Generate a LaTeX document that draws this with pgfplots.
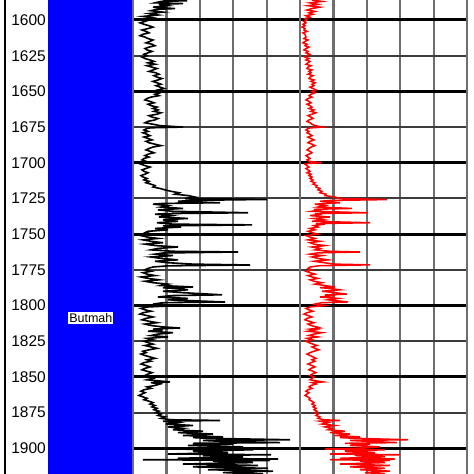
\documentclass[border=0pt]{standalone}
\usepackage{pgfplots}
\pgfplotsset{compat=1.18}
\usepackage{fontspec}
\setmainfont{Liberation Sans}
\definecolor{gridgray}{RGB}{110,110,110}
\definecolor{minorgray}{RGB}{60,60,60}

\pgfplotstableread{
d v
1586 30
1586.5 54
1587 28
1588 22
1588.5 50
1589 26
1590 35
1591 20
1592 42
1592.5 24
1593.5 18
1594.5 30
1595.5 16
1596.5 25
1597.5 10
1598.5 20
1599.5 14
1600 16
1601 12
1602 7
1603 11
1604 16
1605 20
1606 15
1607 9
1608 13
1609 16
1610 10
1611 7
1612 12
1613 15
1614 20
1615 17
1616 13
1617 19
1618 22
1619 16
1620 12
1621 14
1622 19
1623 15
1624 11
1625 14
1626 9
1627 12
1628 17
1629 21
1630 15
1631 22
1632 14
1633 19
1634 24
1635 20
1636 16
1637 23
1638 26
1639 21
1640 24
1641 29
1642 25
1643 20
1644 24
1645 28
1646 23
1647 27
1648 31
1649 25
1650 29
1651 27
1652 22
1653 26
1654 18
1655 14
1656 12
1657 17
1658 21
1659 15
1660 18
1661 24
1662 20
1663 25
1664 21
1665 28
1666 24
1667 16
1668 19
1669 25
1670 22
1671 15
1672 12
1673 20
1674 27
1675 50
1675.5 18
1676 14
1677 11
1678 15
1679 10
1680 14
1681 17
1682 11
1683 15
1684 19
1685 13
1686 16
1687 22
1688 28
1689 20
1690 16
1691 13
1692 17
1693 21
1694 15
1695 12
1696 16
1697 11
1698 9
1699 13
1700 11
1701 8
1702 12
1703 17
1704 13
1705 9
1706 11
1707 15
1708 12
1709 8
1710 10
1711 14
1712 11
1713 16
1714 13
1715 18
1716 22
1717 20
1718 27
1719 32
1720 38
1721 46
1722 42
1723 55
1724 62
1725 52
1725.7 134
1726.3 60
1727 45
1728 87
1728.5 30
1729 20
1730 35
1731 28
1732 50
1733 25
1734 40
1735 115
1735.6 35
1736 22
1737 38
1738 26
1739 55
1740 30
1741 45
1742 24
1743 40
1743.5 119
1744.2 30
1745 48
1746 22
1747 35
1748 15
1749 12
1750 20
1751 8
1752 14
1753 25
1754 10
1755 18
1756 30
1757 12
1758 22
1759 45
1760 25
1761 18
1762 40
1762.5 105
1763.2 30
1764 22
1765 40
1766 18
1767 28
1768 45
1769 22
1770 35
1771 60
1771.6 117
1772.2 35
1773 20
1774 15
1775 12
1776 18
1777 10
1778 14
1779 22
1780 8
1781 15
1782 26
1783 12
1784 20
1785 35
1786 28
1787 60
1787.6 30
1788 45
1789 55
1790 30
1791 50
1792.5 89
1793 40
1794 25
1795 55
1796 35
1797.5 92
1798 30
1799 20
1800 45
1801 15
1802 8
1803 12
1804 18
1805 10
1806 7
1807 14
1808 20
1809 13
1810 9
1811 16
1812 24
1813 12
1814 18
1815 30
1815.7 47
1816.5 20
1817 30
1818 15
1819 40
1820 25
1821 18
1822 35
1823 14
1824 20
1825 11
1826 15
1827 20
1828 12
1829 18
1830 24
1831 16
1832 10
1833 13
1834 8
1835 12
1836 17
1837 22
1838 14
1839 18
1840 11
1841 8
1842 13
1843 17
1844 12
1845 9
1846 14
1847 19
1848 15
1849 12
1850 16
1851 20
1852 14
1853.5 37
1854 18
1855 27
1856 22
1857 14
1858 18
1859 11
1860 8
1861 12
1862 9
1863 6
1864 10
1865 14
1866 11
1867 16
1868 20
1869 17
1870 22
1871 19
1872 24
1873 21
1874 26
1875 23
1876 28
1877 25
1878 32
1879 28
1880 38
1880.5 87
1881 30
1882 45
1883 33
1884 60
1885 35
1886 50
1887 40
1888 70
1889 45
1890 80
1891 50
1892 90
1892.5 60
1893 75
1894 157
1894.5 70
1895 85
1896 147
1896.5 60
1897 100
1898 55
1899 110
1900 70
1900.5 30
1901 120
1902 60
1903 95
1904 35
1904.5 138
1905 70
1906 110
1907 45
1907.5 145
1908 10
1908.5 137
1909 80
1910 120
1911 50
1912 125
1913 60
1914 135
1915 75
1916 140
1917 90
1918 130
}\blackcurve

\pgfplotstableread{
d v
1586 12
1587 22
1588 10
1589 18
1590 8
1591 20
1592 12
1593 7
1594 15
1595 9
1596 13
1597 6
1598 10
1599 5
1600 7
1601 4
1602 6
1603 3
1604 5
1605 2
1606 5
1607 4
1608 7
1609 3
1610 5
1612 6
1613 4
1614 8
1615 5
1616 3
1617 7
1618 5
1619 9
1620 6
1621 4
1622 8
1623 6
1624 10
1625 7
1626 5
1627 9
1628 6
1629 10
1630 8
1631 6
1632 11
1633 8
1634 7
1635 12
1636 9
1637 11
1638 8
1639 13
1640 10
1641 9
1642 14
1643 11
1644 15
1645 12
1646 14
1647 10
1648 13
1649 16
1650 12
1651 15
1652 11
1653 9
1654 12
1655 8
1656 6
1657 9
1658 11
1659 7
1660 10
1661 12
1662 9
1663 14
1664 11
1665 16
1666 12
1667 8
1668 11
1669 13
1670 9
1671 7
1672 10
1673 12
1674 15
1675 23
1675.6 10
1676 8
1677 6
1678 9
1679 7
1680 10
1681 12
1682 8
1683 11
1684 14
1685 10
1686 8
1687 12
1688 15
1689 11
1690 9
1691 7
1692 10
1693 12
1694 9
1695 6
1696 8
1697 10
1698 7
1699 9
1700 22
1700.5 8
1701 5
1702 7
1703 9
1704 6
1705 8
1706 10
1707 7
1708 11
1709 9
1710 12
1711 10
1712 13
1713 11
1714 15
1715 13
1716 17
1717 16
1718 20
1719 18
1720 22
1721 20
1722 26
1723 25
1724 35
1725 40
1725.8 87
1726.4 30
1727 20
1728 40
1729 15
1730 25
1731 18
1732 52
1732.6 14
1733 20
1734 12
1735 68
1735.6 15
1736 22
1737 10
1738 30
1739 14
1740 24
1741 12
1742 70
1742.6 16
1743 25
1744 14
1745 18
1746 10
1747 15
1748 8
1749 12
1750 18
1751 6
1752 10
1753 15
1754 8
1755 20
1756 10
1757 14
1758 25
1759 12
1760 20
1761 15
1762 30
1762.5 60
1763.1 18
1764 10
1765 22
1766 12
1767 18
1768 28
1769 14
1770 24
1771 35
1771.5 70
1772.1 20
1773 10
1774 8
1775 12
1776 6
1777 10
1778 15
1779 8
1780 12
1781 18
1782 10
1783 14
1784 22
1785 15
1786 25
1787 35
1787.5 20
1788 30
1789 40
1790 22
1791 35
1792 47
1792.6 25
1793 35
1794 20
1795 38
1796 28
1797.5 48
1798 22
1799 15
1800 25
1801 10
1802 6
1803 9
1804 13
1805 7
1806 4
1807 8
1808 12
1809 7
1810 5
1811 9
1812 14
1813 8
1814 11
1815 17
1815.7 20
1816.5 10
1817 16
1818 8
1819 22
1820 14
1821 9
1822 18
1823 7
1824 12
1825 6
1826 9
1827 13
1828 17
1829 12
1830 15
1831 19
1832 14
1833 10
1834 7
1835 10
1836 13
1837 16
1838 12
1839 15
1840 11
1841 8
1842 12
1843 15
1844 11
1845 9
1846 13
1847 16
1848 12
1849 10
1850 14
1851 12
1852 10
1853.5 23
1854 12
1855 16
1856 11
1857 9
1858 12
1859 8
1860 6
1861 9
1862 7
1863 5
1864 8
1865 10
1866 9
1867 12
1868 14
1869 12
1870 15
1871 13
1872 16
1873 14
1874 17
1875 15
1876 18
1877 16
1878 20
1879 18
1880 24
1880.5 40
1881 20
1882 28
1883 22
1884 35
1885 25
1886 32
1887 28
1888 45
1889 30
1890 50
1891 35
1892 60
1892.5 40
1893 55
1894 108
1894.5 50
1895 65
1896 97
1896.5 45
1897 70
1898 50
1899 80
1900 55
1900.5 25
1901 85
1902 45
1903 75
1904 30
1904.5 100
1905 55
1906 85
1907 40
1907.5 95
1908 30
1908.5 90
1909 60
1910 85
1911 40
1912 90
1913 50
1914 85
1915 60
1916 90
1917 65
1918 85
}\redcurve

\pgfplotsset{
  track/.style={
    anchor=south west, scale only axis, width=167pt, height=474pt,
    xmin=0, xmax=167, ymin=1586, ymax=1918, y dir=reverse,
    axis line style={draw=none},
    xtick={33.4,66.8,100.2,133.6}, xticklabels={},
    ytick={1600,1650,1700,1750,1800,1850,1900}, yticklabels={},
    minor ytick={1625,1675,1725,1775,1825,1875},
    xmajorgrids, ymajorgrids, yminorgrids,
    major tick length=0pt, minor tick length=0pt,
    x grid style={gridgray, line width=2.2pt},
    major y grid style={black, line width=3pt},
    minor y grid style={minorgray, line width=2pt},
    extra x ticks={0,167}, extra x tick labels={},
    extra x tick style={grid style={black, line width=2.2pt}},
  }
}

\begin{document}
\begin{tikzpicture}[x=1pt,y=1pt]
\path[use as bounding box] (0,0) rectangle (474,474);

% depth column
\begin{axis}[at={(5pt,0pt)}, anchor=south west, scale only axis,
  width=43pt, height=474pt, xmin=0, xmax=1,
  ymin=1586, ymax=1918, y dir=reverse,
  axis x line=none, axis y line*=left,
  y axis line style={line width=2.2pt, black},
  ytick={1600,1625,...,1900}, major tick length=0pt,
  /pgf/number format/assume math mode=true,
  /pgf/number format/1000 sep={},
  yticklabel style={font=\fontsize{15.5}{15.5}\selectfont, anchor=east, inner sep=0pt, xshift=41pt},
]
\end{axis}

% formation column
\begin{axis}[at={(48pt,0pt)}, anchor=south west, scale only axis,
  width=84pt, height=474pt, xmin=0, xmax=1,
  ymin=1586, ymax=1918, y dir=reverse, hide axis]
\addplot[fill=blue, draw=none] coordinates {(0,1586) (1,1586) (1,1918) (0,1918)};
\node[fill=white, inner sep=1pt, font=\fontsize{12.5}{12.5}\selectfont] at (axis cs:0.51,1808.7) {Butmah};
\end{axis}

% track 1
\begin{axis}[track, at={(133pt,0pt)}]
\addplot[black, line width=1.6pt] table[x=v, y=d] {\blackcurve};
\end{axis}

% track 2
\begin{axis}[track, at={(300pt,0pt)}]
\addplot[red, line width=1.5pt] table[x=v, y=d] {\redcurve};
\end{axis}
\end{tikzpicture}
\end{document}
